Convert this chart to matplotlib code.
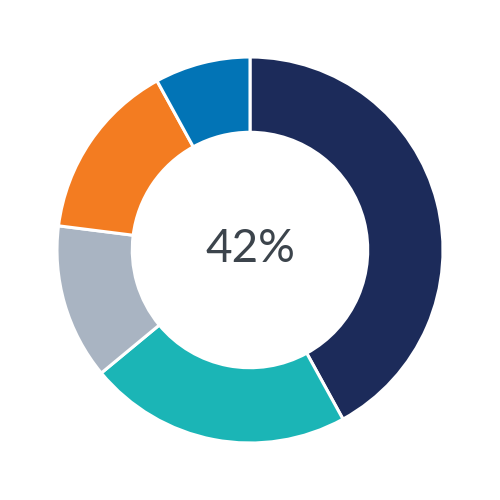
import matplotlib
matplotlib.use("Agg")
import matplotlib.pyplot as plt

labels = ["A", "B", "C", "D", "E"]
values = [42, 22, 13, 15, 8]
colors = ["#1c2b5a", "#1bb5b6", "#a9b4c2", "#f37c21", "#0274b6"]
center_text = "42%"

fig = plt.figure(figsize=(5, 5), dpi=100)
ax = fig.add_axes([0, 0, 1, 1])
ax.pie(values, colors=colors, startangle=90, counterclock=False, radius=1.0,
       wedgeprops=dict(width=0.39, edgecolor="white", linewidth=2.2))
ax.text(0, 0.005, center_text, ha="center", va="center", fontsize=33,
        color="#3c444c", family=["Lato", "DejaVu Sans"])
lim = 250 / 193
ax.set_xlim(-lim, lim)
ax.set_ylim(-lim, lim)
ax.set_aspect("equal")
ax.axis("off")
fig.savefig("out.png", dpi=100, facecolor="white")
